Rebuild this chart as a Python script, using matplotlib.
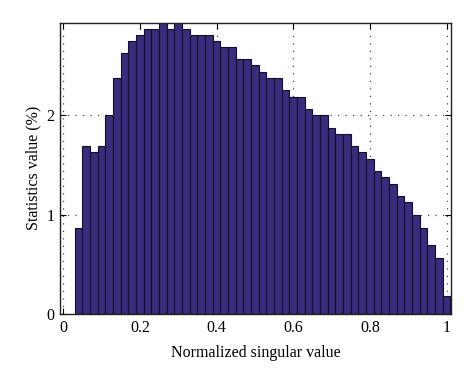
import matplotlib
matplotlib.use("Agg")
import matplotlib.pyplot as plt
import numpy as np

bin_centers = [0.04, 0.06, 0.08, 0.10, 0.12, 0.14, 0.16, 0.18, 0.20, 0.22,
               0.24, 0.26, 0.28, 0.30, 0.32, 0.34, 0.36, 0.38, 0.40, 0.42,
               0.44, 0.46, 0.48, 0.50, 0.52, 0.54, 0.56, 0.58, 0.60, 0.62,
               0.64, 0.66, 0.68, 0.70, 0.72, 0.74, 0.76, 0.78, 0.80, 0.82,
               0.84, 0.86, 0.88, 0.90, 0.92, 0.94, 0.96, 0.98, 1.00]
stat_values = [0.87, 1.69, 1.625, 1.69, 2.00, 2.375, 2.625, 2.75, 2.81, 2.87,
               2.87, 2.95, 2.87, 2.95, 2.87, 2.81, 2.81, 2.81, 2.75, 2.69,
               2.69, 2.56, 2.56, 2.50, 2.435, 2.375, 2.375, 2.25, 2.185, 2.185,
               2.065, 2.00, 2.00, 1.875, 1.815, 1.815, 1.69, 1.625, 1.56, 1.44,
               1.38, 1.31, 1.19, 1.13, 1.00, 0.87, 0.69, 0.56, 0.185]
x_ticks = [0, 0.2, 0.4, 0.6, 0.8, 1]
x_tick_labels = ["0", "0.2", "0.4", "0.6", "0.8", "1"]
y_ticks = [0, 1, 2]
y_tick_labels = ["0", "1", "2"]

plt.rcParams['font.family'] = ['Liberation Serif', 'DejaVu Serif']

fig = plt.figure(figsize=(4.74, 3.82), dpi=100)
ax = fig.add_axes([0.1266, 0.178, 0.825, 0.7626])
ax.bar(bin_centers, stat_values, width=0.02, color='#3a2b7c',
       edgecolor='#140d28', linewidth=0.8, zorder=2)
ax.set_xlim(-0.0086, 1.0115)
ax.set_ylim(0, 2.93)
ax.set_xticks(x_ticks)
ax.set_xticklabels(x_tick_labels)
ax.set_yticks(y_ticks)
ax.set_yticklabels(y_tick_labels)
ax.grid(True, linestyle=(0, (1, 5)), color='#444444', linewidth=0.9, zorder=1)
ax.set_axisbelow(True)
ax.tick_params(direction='in', top=True, right=True, length=4, labelsize=11.5,
               width=0.8, pad=4)
for s in ax.spines.values():
    s.set_linewidth(1.0)
    s.set_color('#222222')
    s.set_zorder(3)
ax.set_xlabel("Normalized singular value", fontsize=11.5, labelpad=7)
ax.set_ylabel("Statistics value (%)", fontsize=11.5, labelpad=4)
fig.savefig("out.png", dpi=100)
